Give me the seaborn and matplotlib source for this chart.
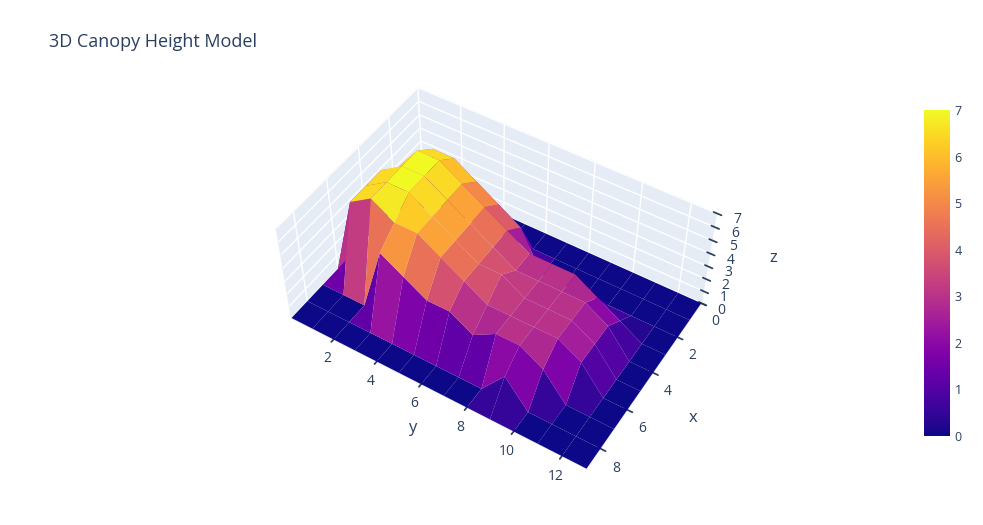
import numpy as np
import matplotlib
matplotlib.use("Agg")
import matplotlib.pyplot as plt
import seaborn as sns

sns.set_theme(style="white")
plt.rcParams['font.family'] = ['Open Sans', 'DejaVu Sans']

x_vals = list(range(10))
y_vals = list(range(14))
heights = [
    [0, 0, 0, 0, 0, 0, 0, 0, 0, 0],
    [0, 0, 0, 5, 6, 6, 6, 0, 0, 0],
    [0, 0, 6, 7, 7, 7, 7, 0, 0, 0],
    [0, 0, 6, 7, 7, 7, 6, 5, 0, 0],
    [0, 0, 5, 6, 6, 6, 6, 4, 0, 0],
    [0, 0, 4, 5, 5, 5, 5, 3, 0, 0],
    [0, 0, 3, 4, 4, 4, 4, 3, 0, 0],
    [0, 0, 0, 3, 3, 4, 3, 2, 0, 0],
    [0, 0, 0, 3, 3, 3, 3, 3, 0, 0],
    [0, 0, 0, 3, 3, 3, 3, 3, 2, 0],
    [0, 0, 0, 2, 3, 3, 3, 2, 0, 0],
    [0, 0, 0, 1, 2, 2, 2, 0, 0, 0],
    [0, 0, 0, 0, 0, 0, 0, 0, 0, 0],
    [0, 0, 0, 0, 0, 0, 0, 0, 0, 0],
]

# Matplotlib's horizontal axes are swapped so the view matches the reference
Yg, Xg = np.meshgrid(y_vals, x_vals)       # shape (10, 14)
Z = np.array(heights, dtype=float).T       # Z[x, y]

fig = plt.figure(figsize=(9.83, 5.25), dpi=100)
ax = fig.add_axes([0.28, 0.06, 0.44, 0.84], projection='3d')
surf = ax.plot_surface(Yg, Xg, Z, cmap='plasma', vmin=0, vmax=7,
                       rstride=1, cstride=1, linewidth=0, antialiased=True)
ax.view_init(elev=48, azim=-58)
ax.set_proj_type('persp', focal_length=0.6)
ax.set_xlim(0, 13)
ax.set_ylim(9, 0)
ax.set_zlim(0, 7)
ax.set_box_aspect((13, 9, 5), zoom=1.0)
pane = (0.898, 0.925, 0.965, 1.0)
for a in (ax.xaxis, ax.yaxis, ax.zaxis):
    a.set_pane_color(pane)
    a._axinfo['grid']['color'] = (1, 1, 1, 1)
    a._axinfo['grid']['linewidth'] = 1.0
    a.line.set_color((1, 1, 1, 0))
ax.set_xticks([2, 4, 6, 8, 10, 12])
ax.set_yticks([0, 2, 4, 6, 8])
ax.set_zticks(range(8))
ax.tick_params(labelsize=10, colors='#2a3f5f', pad=0)
ax.set_xlabel('y', color='#2a3f5f')
ax.set_ylabel('x', color='#2a3f5f')
ax.set_zlabel('z', color='#2a3f5f')

cax = fig.add_axes([0.94, 0.17, 0.026, 0.62])
cb = fig.colorbar(surf, cax=cax)
cb.outline.set_visible(False)
cb.ax.tick_params(labelsize=9, colors='#2a3f5f', length=0)
cb.set_ticks(range(8))

fig.text(0.05, 0.91, '3D Canopy Height Model', fontsize=13, color='#2a3f5f')
fig.savefig('out.png', dpi=100)
